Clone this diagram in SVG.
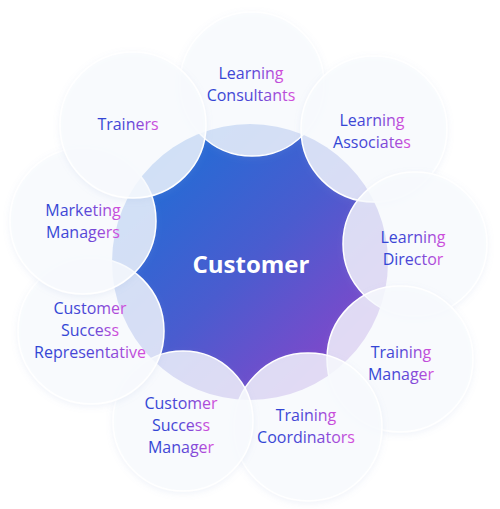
<svg xmlns="http://www.w3.org/2000/svg" width="500" height="509" viewBox="0 0 500 509">
  <defs>
    <linearGradient id="core" x1="0" y1="0" x2="1" y2="1">
      <stop offset="0" stop-color="#1273d8"/>
      <stop offset="0.5" stop-color="#4a5ccf"/>
      <stop offset="1" stop-color="#9a3ec8"/>
    </linearGradient>
    <linearGradient id="txt" x1="0" y1="0" x2="1" y2="0">
      <stop offset="0" stop-color="#2f45d4"/>
      <stop offset="0.5" stop-color="#5046d6"/>
      <stop offset="1" stop-color="#d84fdb"/>
    </linearGradient>
    <filter id="sh" x="-20%" y="-20%" width="140%" height="140%">
      <feDropShadow dx="0" dy="2" stdDeviation="3" flood-color="#8ea6d6" flood-opacity="0.15"/>
    </filter>
  </defs>
  <style>
    .ring { fill: #f9fbfe; fill-opacity: 0.8; stroke: #ffffff; stroke-width: 1.5; filter: url(#sh); }
    .lbl { font-family: "Open Sans", "Noto Sans", sans-serif; font-size: 16px; font-weight: 400; fill: url(#txt); text-anchor: middle; }
    .core-t { font-family: "Open Sans", "Noto Sans", sans-serif; font-size: 24px; font-weight: 700; fill: #ffffff; text-anchor: middle; }
  </style>
  <rect width="500" height="509" fill="#ffffff"/>
  <g id="customer">
    <circle cx="250" cy="262" r="138" fill="url(#core)"/>
  </g>
  <g id="connectors"/>
  <g id="learning-consultants">
    <circle class="ring" cx="252" cy="84" r="72"/>
  </g>
  <g id="learning-associates">
    <circle class="ring" cx="374" cy="129" r="73"/>
  </g>
  <g id="learning-director">
    <circle class="ring" cx="415" cy="244" r="72"/>
  </g>
  <g id="training-manager">
    <circle class="ring" cx="400" cy="359" r="73"/>
  </g>
  <g id="training-coordinators">
    <circle class="ring" cx="308" cy="427" r="74"/>
  </g>
  <g id="customer-success-manager">
    <circle class="ring" cx="183" cy="421" r="70"/>
  </g>
  <g id="customer-success-representative">
    <circle class="ring" cx="91" cy="331" r="73"/>
  </g>
  <g id="marketing-managers">
    <circle class="ring" cx="83" cy="221" r="73"/>
  </g>
  <g id="trainers">
    <circle class="ring" cx="133" cy="125" r="73"/>
  </g>
  <g id="labels">
    <text class="lbl" x="251" y="79">Learning</text>
    <text class="lbl" x="251" y="101">Consultants</text>
    <text class="lbl" x="372" y="126">Learning</text>
    <text class="lbl" x="372" y="148">Associates</text>
    <text class="lbl" x="413" y="243">Learning</text>
    <text class="lbl" x="413" y="265">Director</text>
    <text class="lbl" x="401" y="358">Training</text>
    <text class="lbl" x="401" y="380">Manager</text>
    <text class="lbl" x="306" y="421">Training</text>
    <text class="lbl" x="306" y="443">Coordinators</text>
    <text class="lbl" x="181" y="409">Customer</text>
    <text class="lbl" x="181" y="431">Success</text>
    <text class="lbl" x="181" y="453">Manager</text>
    <text class="lbl" x="90" y="314">Customer</text>
    <text class="lbl" x="90" y="336">Success</text>
    <text class="lbl" x="90" y="358">Representative</text>
    <text class="lbl" x="83" y="216">Marketing</text>
    <text class="lbl" x="83" y="238">Managers</text>
    <text class="lbl" x="128" y="130">Trainers</text>
    <text class="core-t" x="251" y="273">Customer</text>
  </g>
</svg>
